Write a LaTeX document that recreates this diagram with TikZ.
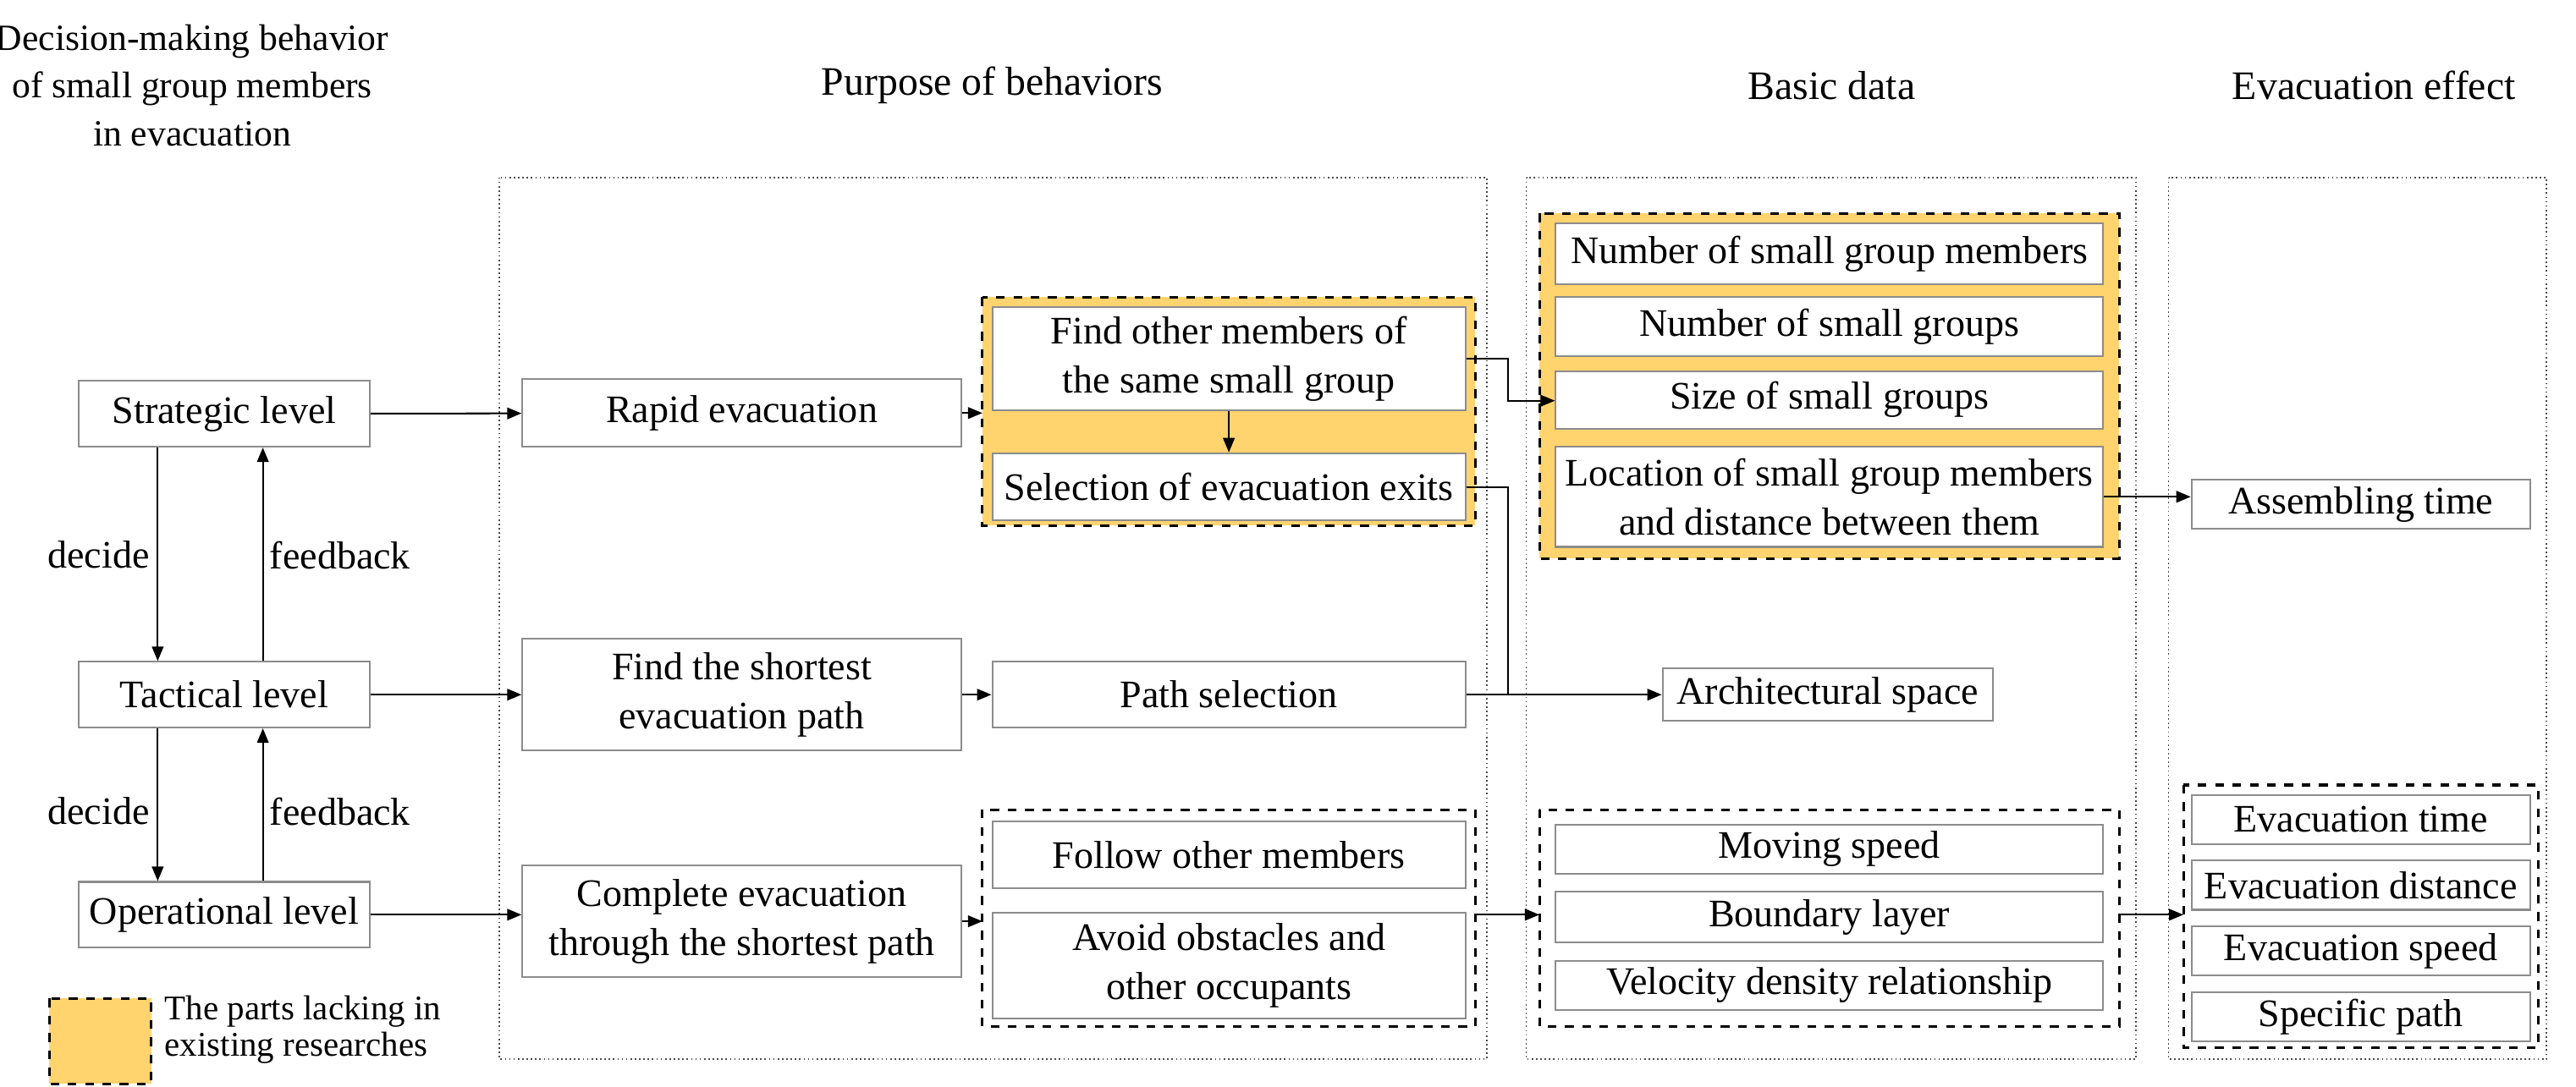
\documentclass[tikz,border=0pt]{standalone}
\usepackage{fontspec}
\setmainfont{Liberation Serif}
\usetikzlibrary{arrows.meta}
\definecolor{org}{HTML}{FFD36E}
\definecolor{bd}{HTML}{8C8C8C}
\begin{document}
\begin{tikzpicture}[x=0.02cm,y=-0.02cm,
  font=\fontsize{13.5}{17}\selectfont,
  bx/.style={draw=bd,fill=white,line width=0.6pt,align=center,inner sep=0pt},
  panel/.style={draw=black!70,densely dotted,line width=0.5pt},
  grp/.style={draw=black,dashed,line width=0.9pt},
  arr/.style={-{Triangle[length=5pt,width=4pt]},line width=0.6pt},
  ln/.style={line width=0.6pt}]
\useasboundingbox (0,0) rectangle (1568,661.5);
\newcommand{\bxn}[6]{\node[bx,minimum width={(#3-#2)*0.02cm},minimum height={(#5-#4)*0.02cm}] (#1) at ({(#2+#3)/2},{(#4+#5)/2}) {#6};}
% headers
\node[align=center,font=\fontsize{12.8}{16.5}\selectfont] (h1) at (117,52) {Decision-making behavior\\of small group members\\in evacuation};
\node[font=\fontsize{14}{17}\selectfont] (h2) at (604,52) {Purpose of behaviors};
\node[font=\fontsize{14}{17}\selectfont] (h3) at (1115,52) {Basic data};
\node[font=\fontsize{14}{17}\selectfont] (h4) at (1445,52) {Evacuation effect};
% panels
\draw[panel] (304,108) rectangle (905,645);
\draw[panel] (929,108) rectangle (1300,645);
\draw[panel] (1320,108) rectangle (1550,645);
% groups
\draw[grp,fill=org] (598,181) rectangle (898,320);
\draw[grp] (598,493) rectangle (898,625);
\draw[grp,fill=org] (937,130) rectangle (1290,340);
\draw[grp] (937,493) rectangle (1290,625);
\draw[grp] (1329,478) rectangle (1545,638);
\coordinate (g1r) at (898,557);
\coordinate (g2l) at (937,557);
\coordinate (g2r) at (1290,557);
\coordinate (g3l) at (1329,557);
% left
\bxn{st}{48}{225}{232}{272}{Strategic level}
\bxn{ta}{48}{225}{403}{443}{Tactical level}
\bxn{op}{48}{225}{537}{577}{Operational level}
% purpose
\bxn{ra}{318}{585}{231}{272}{Rapid evacuation}
\bxn{fs}{318}{585}{389}{457}{Find the shortest\\evacuation path}
\bxn{ce}{318}{585}{527}{595}{Complete evacuation\\through the shortest path}
\bxn{fo}{604}{892}{187}{250}{Find other members of\\the same small group}
\bxn{se}{604}{892}{276}{317}{Selection of evacuation exits}
\bxn{ps}{604}{892}{403}{443}{Path selection}
\bxn{fm}{604}{892}{500}{541}{Follow other members}
\bxn{ao}{604}{892}{556}{620}{Avoid obstacles and\\other occupants}
% basic
\bxn{nm}{947}{1280}{136}{173}{Number of small group members}
\bxn{ng}{947}{1280}{181}{217}{Number of small groups}
\bxn{sz}{947}{1280}{226}{261}{Size of small groups}
\bxn{lo}{947}{1280}{272}{333}{Location of small group members\\and distance between them}
\bxn{ar}{1012}{1213}{407}{439}{Architectural space}
\bxn{mv}{947}{1280}{502}{532}{Moving speed}
\bxn{bl}{947}{1280}{543}{574}{Boundary layer}
\bxn{vd}{947}{1280}{585}{615}{Velocity density relationship}
% effect
\bxn{as}{1334}{1540}{292}{322}{Assembling time}
\bxn{et}{1334}{1540}{484}{514}{Evacuation time}
\bxn{ed}{1334}{1540}{524}{554}{Evacuation distance}
\bxn{es}{1334}{1540}{564}{594}{Evacuation speed}
\bxn{sp}{1334}{1540}{604}{634}{Specific path}
% legend
\draw[grp,fill=org] (30,608) rectangle (92,660);
\node[align=left,anchor=north west,font=\fontsize{12}{12.5}\selectfont,inner sep=0pt] (lg) at (100,606) {The parts lacking in\\existing researches};
% connectors
\draw[arr] (st.south -| 96,0) -- (ta.north -| 96,0);
\draw[arr] (ta.north -| 160,0) -- (st.south -| 160,0);
\draw[arr] (ta.south -| 96,0) -- (op.north -| 96,0);
\draw[arr] (op.north -| 160,0) -- (ta.south -| 160,0);
\node (d1) at (60,338) {decide};
\node (f1) at (207,338) {feedback};
\node (d2) at (60,494) {decide};
\node (f2) at (207,494) {feedback};
\draw[arr] (st) -- (ra);
\draw[arr] (ta) -- (fs);
\draw[arr] (op.east) -- (ce.west |- op.east);
\draw[arr] (ra.east) -- (ra.east -| 598,0);
\draw[arr] (fs) -- (ps);
\draw[arr] (ce.east) -- (ce.east -| 598,0);
\draw[arr] (fo) -- (se);
\draw[arr] (fo.east) -| (918,244) -- (sz.west |- 0,244);
\draw[ln] (se.east) -| (918,423);
\draw[arr] (ps) -- (ar);
\draw[arr] (g1r) -- (g2l);
\draw[arr] (lo.east) -- (as.west |- lo.east);
\draw[arr] (g2r) -- (g3l);
\end{tikzpicture}
\end{document}
